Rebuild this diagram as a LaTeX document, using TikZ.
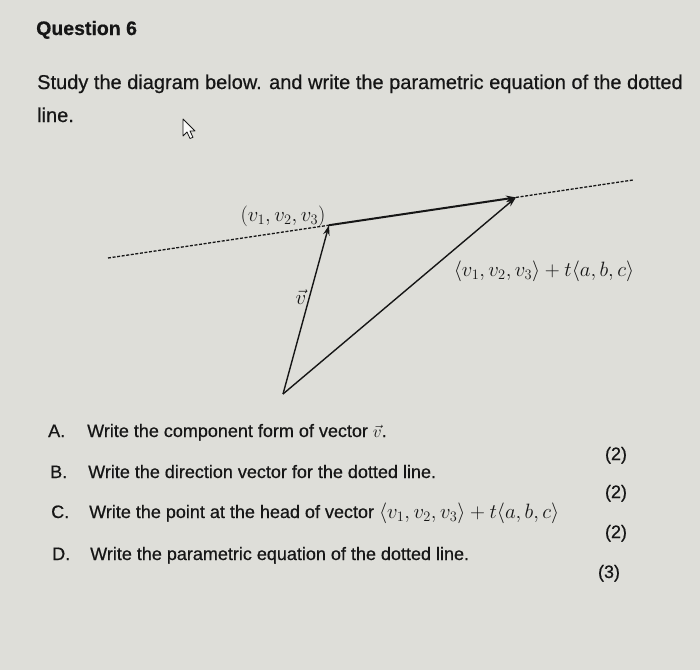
\documentclass[tikz,border=0pt]{standalone}
\usepackage[no-math]{fontspec}
\setmainfont{Liberation Sans}[FakeBold=0.6]
\usepackage{amsmath}
\usetikzlibrary{arrows.meta}
\definecolor{paper}{RGB}{222,222,217}
\definecolor{ink}{RGB}{22,22,22}
\begin{document}
\begin{tikzpicture}[x=1pt,y=-1pt,
  txt/.style={anchor=base west, inner sep=0pt, text=ink},
  itemtxt/.style={txt, font=\fontsize{18}{21}\selectfont},
  scoremark/.style={anchor=base, inner sep=0pt, text=ink, font=\fontsize{18}{21}\selectfont},
  mathlbl/.style={inner sep=0pt, text=ink, font=\fontsize{21.5}{24}\selectfont},
  vecarrow/.style={draw=ink, line width=1.4pt, -{Stealth[length=10pt,width=6.5pt]}},
  dotline/.style={draw=ink, line width=1.3pt, dash pattern=on 3pt off 1.6pt}]
\useasboundingbox (0,0) rectangle (700,670);
\fill[paper] (0,0) rectangle (700,670);

% heading and intro
\node[txt, font=\bfseries\fontsize{19.5}{22}\selectfont] (q) at (36,35) {Question 6};
\node[txt, font=\fontsize{20}{24}\selectfont] (l1) at (37,89) {Study the diagram below. and write the parametric equation of the dotted};
\node[txt, font=\fontsize{20}{24}\selectfont] (l2) at (37,122) {line.};

% cursor
\draw[ink, line width=0.8pt, fill=white!85!paper, line join=round]
  (183,119) -- (183,136) -- (187,132) -- (190,138.5) -- (193,137.3) -- (190,131) -- (195,131) -- cycle;

% diagram points
\coordinate (L) at (108,258);
\coordinate (P) at (329,225.2);
\coordinate (H) at (516,197.4);
\coordinate (R) at (633,180);
\coordinate (O) at (283,394);

\draw[dotline] (L) -- (P);
\draw[dotline] (H) -- (R);
\draw[vecarrow, line width=2pt] (P) -- (H);
\draw[vecarrow] (O) -- (P);
\draw[vecarrow] (O) -- (H);

\node[mathlbl] (pl) at (283,216) {$(v_1, v_2, v_3)$};
\node[mathlbl] (vl) at (301,297) {$\vec{v}$};
\node[mathlbl] (sl) at (544,271) {$\langle v_1, v_2, v_3\rangle + t\langle a, b, c\rangle$};

% questions
\node[itemtxt] (a) at (48,437) {A.};
\node[itemtxt] (at) at (87,437) {Write the component form of vector $\vec{v}$.};
\node[scoremark] (am) at (616,460) {(2)};
\node[itemtxt] (b) at (50,478) {B.};
\node[itemtxt] (bt) at (88,478) {Write the direction vector for the dotted line.};
\node[scoremark] (bm) at (616,498) {(2)};
\node[itemtxt] (c) at (51,518) {C.};
\node[itemtxt] (ct) at (89,518) {Write the point at the head of vector {\fontsize{20.5}{22}\selectfont$\langle v_1, v_2, v_3\rangle + t\langle a, b, c\rangle$}};
\node[scoremark] (cm) at (616,538) {(2)};
\node[itemtxt] (d) at (52,560) {D.};
\node[itemtxt] (dt) at (90,560) {Write the parametric equation of the dotted line.};
\node[scoremark] (dm) at (609,578) {(3)};
\end{tikzpicture}
\end{document}
